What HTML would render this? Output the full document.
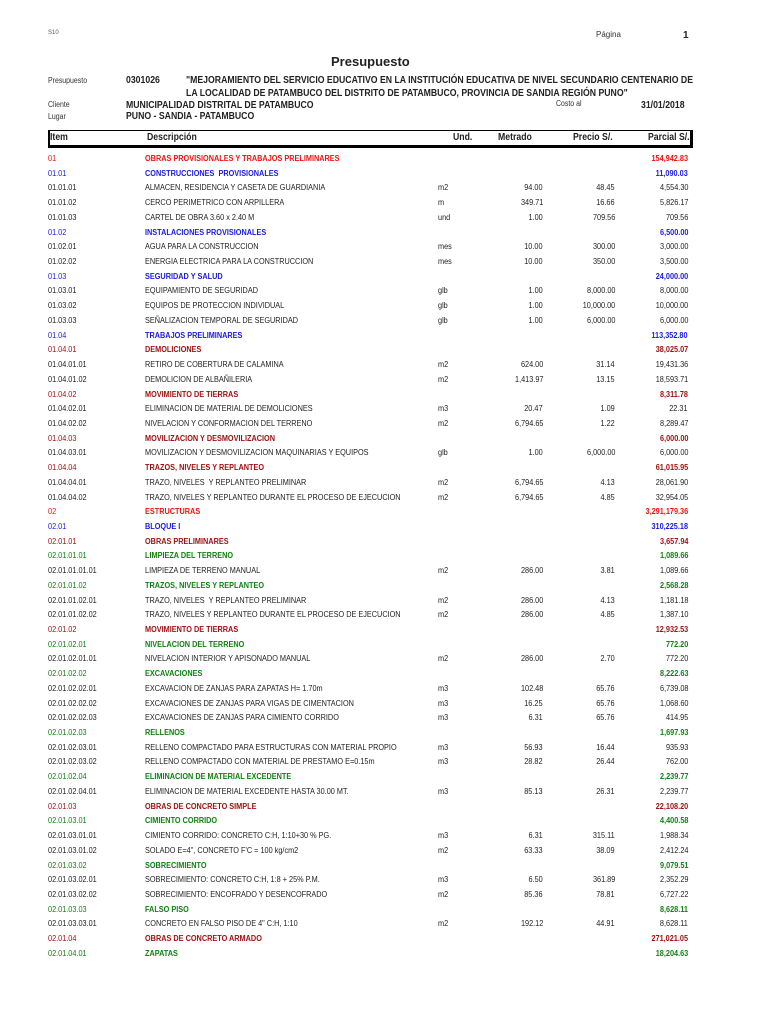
<!DOCTYPE html>
<html><head><meta charset="utf-8"><style>
body{margin:0;background:#fff;width:768px;height:1024px;position:relative;overflow:hidden;font-family:"Liberation Sans",sans-serif;color:#222}
.a{position:absolute;white-space:nowrap;transform-origin:left top}
.hd{font-size:10px;font-weight:bold;transform:scaleX(0.87)}
.hr{transform-origin:right top}
#t{position:absolute;left:0;top:151px;width:768px}
.r{position:relative;height:14.72px;line-height:14px;font-size:8.6px}
.r span{position:absolute;top:0;white-space:nowrap;transform:scaleX(0.85);transform-origin:left center}
.r .m,.r .p,.r .t{transform-origin:right center}
.i{left:48px}.d{left:145px}.u{left:438px}
.m{right:225px}.p{right:153px}.t{right:80px}
.R{color:#f01010;font-weight:bold}.R .i{font-weight:normal}
.B{color:#1a1ae0;font-weight:bold}.B .i{font-weight:normal}
.D{color:#a01010;font-weight:bold}.D .i{font-weight:normal}
.G{color:#108010;font-weight:bold}.G .i{font-weight:normal}
</style></head><body>
<div class="a" style="left:48px;top:30px;font-size:6px;color:#555">S10</div>
<div class="a" style="left:596px;top:30px;font-size:8px;color:#333">Página</div>
<div class="a" style="left:683px;top:30px;font-size:10px;font-weight:bold">1</div>
<div class="a" style="left:331px;top:54px;font-size:13px;font-weight:bold">Presupuesto</div>
<div class="a" style="left:48px;top:76px;font-size:8px;color:#333;transform:scaleX(0.87)">Presupuesto</div>
<div class="a hd" style="left:126px;top:75px">0301026</div>
<div class="a hd" style="left:186px;top:75px">"MEJORAMIENTO DEL SERVICIO EDUCATIVO EN LA INSTITUCIÓN EDUCATIVA DE NIVEL SECUNDARIO CENTENARIO DE</div>
<div class="a hd" style="left:186px;top:88px">LA LOCALIDAD DE PATAMBUCO DEL DISTRITO DE PATAMBUCO, PROVINCIA DE SANDIA REGIÓN PUNO"</div>
<div class="a" style="left:48px;top:100px;font-size:8px;color:#333;transform:scaleX(0.87)">Cliente</div>
<div class="a hd" style="left:126px;top:100px">MUNICIPALIDAD DISTRITAL DE PATAMBUCO</div>
<div class="a" style="left:556px;top:99px;font-size:8px;color:#333;transform:scaleX(0.87)">Costo al</div>
<div class="a hd" style="left:641px;top:100px">31/01/2018</div>
<div class="a" style="left:48px;top:112px;font-size:8px;color:#333;transform:scaleX(0.87)">Lugar</div>
<div class="a hd" style="left:126px;top:111px">PUNO - SANDIA - PATAMBUCO</div>
<div class="a" style="left:48px;top:130px;width:640px;height:14px;border:1px solid #000;border-left-width:2px;border-bottom-width:3px;border-right-width:3px"></div>
<div class="a hd" style="left:50px;top:132px">Item</div>
<div class="a hd" style="left:147px;top:132px">Descripción</div>
<div class="a hd" style="left:453px;top:132px">Und.</div>
<div class="a hd" style="left:498px;top:132px">Metrado</div>
<div class="a hd" style="left:573px;top:132px">Precio S/.</div>
<div class="a hd" style="left:648px;top:132px">Parcial S/.</div>
<div id="t">
<div class="r R"><span class="i">01</span><span class="d">OBRAS PROVISIONALES Y TRABAJOS PRELIMINARES</span><span class="t">154,942.83</span></div>
<div class="r B"><span class="i">01.01</span><span class="d">CONSTRUCCIONES&nbsp; PROVISIONALES</span><span class="t">11,090.03</span></div>
<div class="r"><span class="i">01.01.01</span><span class="d">ALMACEN, RESIDENCIA Y CASETA DE GUARDIANIA</span><span class="u">m2</span><span class="m">94.00</span><span class="p">48.45</span><span class="t">4,554.30</span></div>
<div class="r"><span class="i">01.01.02</span><span class="d">CERCO PERIMETRICO CON ARPILLERA</span><span class="u">m</span><span class="m">349.71</span><span class="p">16.66</span><span class="t">5,826.17</span></div>
<div class="r"><span class="i">01.01.03</span><span class="d">CARTEL DE OBRA 3.60 x 2.40 M</span><span class="u">und</span><span class="m">1.00</span><span class="p">709.56</span><span class="t">709.56</span></div>
<div class="r B"><span class="i">01.02</span><span class="d">INSTALACIONES PROVISIONALES</span><span class="t">6,500.00</span></div>
<div class="r"><span class="i">01.02.01</span><span class="d">AGUA PARA LA CONSTRUCCION</span><span class="u">mes</span><span class="m">10.00</span><span class="p">300.00</span><span class="t">3,000.00</span></div>
<div class="r"><span class="i">01.02.02</span><span class="d">ENERGIA ELECTRICA PARA LA CONSTRUCCION</span><span class="u">mes</span><span class="m">10.00</span><span class="p">350.00</span><span class="t">3,500.00</span></div>
<div class="r B"><span class="i">01.03</span><span class="d">SEGURIDAD Y SALUD</span><span class="t">24,000.00</span></div>
<div class="r"><span class="i">01.03.01</span><span class="d">EQUIPAMIENTO DE SEGURIDAD</span><span class="u">glb</span><span class="m">1.00</span><span class="p">8,000.00</span><span class="t">8,000.00</span></div>
<div class="r"><span class="i">01.03.02</span><span class="d">EQUIPOS DE PROTECCION INDIVIDUAL</span><span class="u">glb</span><span class="m">1.00</span><span class="p">10,000.00</span><span class="t">10,000.00</span></div>
<div class="r"><span class="i">01.03.03</span><span class="d">SEÑALIZACION TEMPORAL DE SEGURIDAD</span><span class="u">glb</span><span class="m">1.00</span><span class="p">6,000.00</span><span class="t">6,000.00</span></div>
<div class="r B"><span class="i">01.04</span><span class="d">TRABAJOS PRELIMINARES</span><span class="t">113,352.80</span></div>
<div class="r D"><span class="i">01.04.01</span><span class="d">DEMOLICIONES</span><span class="t">38,025.07</span></div>
<div class="r"><span class="i">01.04.01.01</span><span class="d">RETIRO DE COBERTURA DE CALAMINA</span><span class="u">m2</span><span class="m">624.00</span><span class="p">31.14</span><span class="t">19,431.36</span></div>
<div class="r"><span class="i">01.04.01.02</span><span class="d">DEMOLICION DE ALBAÑILERIA</span><span class="u">m2</span><span class="m">1,413.97</span><span class="p">13.15</span><span class="t">18,593.71</span></div>
<div class="r D"><span class="i">01.04.02</span><span class="d">MOVIMIENTO DE TIERRAS</span><span class="t">8,311.78</span></div>
<div class="r"><span class="i">01.04.02.01</span><span class="d">ELIMINACION DE MATERIAL DE DEMOLICIONES</span><span class="u">m3</span><span class="m">20.47</span><span class="p">1.09</span><span class="t">22.31</span></div>
<div class="r"><span class="i">01.04.02.02</span><span class="d">NIVELACION Y CONFORMACION DEL TERRENO</span><span class="u">m2</span><span class="m">6,794.65</span><span class="p">1.22</span><span class="t">8,289.47</span></div>
<div class="r D"><span class="i">01.04.03</span><span class="d">MOVILIZACION Y DESMOVILIZACION</span><span class="t">6,000.00</span></div>
<div class="r"><span class="i">01.04.03.01</span><span class="d">MOVILIZACION Y DESMOVILIZACION MAQUINARIAS Y EQUIPOS</span><span class="u">glb</span><span class="m">1.00</span><span class="p">6,000.00</span><span class="t">6,000.00</span></div>
<div class="r D"><span class="i">01.04.04</span><span class="d">TRAZOS, NIVELES Y REPLANTEO</span><span class="t">61,015.95</span></div>
<div class="r"><span class="i">01.04.04.01</span><span class="d">TRAZO, NIVELES&nbsp; Y REPLANTEO PRELIMINAR</span><span class="u">m2</span><span class="m">6,794.65</span><span class="p">4.13</span><span class="t">28,061.90</span></div>
<div class="r"><span class="i">01.04.04.02</span><span class="d">TRAZO, NIVELES Y REPLANTEO DURANTE EL PROCESO DE EJECUCION</span><span class="u">m2</span><span class="m">6,794.65</span><span class="p">4.85</span><span class="t">32,954.05</span></div>
<div class="r R"><span class="i">02</span><span class="d">ESTRUCTURAS</span><span class="t">3,291,179.36</span></div>
<div class="r B"><span class="i">02.01</span><span class="d">BLOQUE I</span><span class="t">310,225.18</span></div>
<div class="r D"><span class="i">02.01.01</span><span class="d">OBRAS PRELIMINARES</span><span class="t">3,657.94</span></div>
<div class="r G"><span class="i">02.01.01.01</span><span class="d">LIMPIEZA DEL TERRENO</span><span class="t">1,089.66</span></div>
<div class="r"><span class="i">02.01.01.01.01</span><span class="d">LIMPIEZA DE TERRENO MANUAL</span><span class="u">m2</span><span class="m">286.00</span><span class="p">3.81</span><span class="t">1,089.66</span></div>
<div class="r G"><span class="i">02.01.01.02</span><span class="d">TRAZOS, NIVELES Y REPLANTEO</span><span class="t">2,568.28</span></div>
<div class="r"><span class="i">02.01.01.02.01</span><span class="d">TRAZO, NIVELES&nbsp; Y REPLANTEO PRELIMINAR</span><span class="u">m2</span><span class="m">286.00</span><span class="p">4.13</span><span class="t">1,181.18</span></div>
<div class="r"><span class="i">02.01.01.02.02</span><span class="d">TRAZO, NIVELES Y REPLANTEO DURANTE EL PROCESO DE EJECUCION</span><span class="u">m2</span><span class="m">286.00</span><span class="p">4.85</span><span class="t">1,387.10</span></div>
<div class="r D"><span class="i">02.01.02</span><span class="d">MOVIMIENTO DE TIERRAS</span><span class="t">12,932.53</span></div>
<div class="r G"><span class="i">02.01.02.01</span><span class="d">NIVELACION DEL TERRENO</span><span class="t">772.20</span></div>
<div class="r"><span class="i">02.01.02.01.01</span><span class="d">NIVELACION INTERIOR Y APISONADO MANUAL</span><span class="u">m2</span><span class="m">286.00</span><span class="p">2.70</span><span class="t">772.20</span></div>
<div class="r G"><span class="i">02.01.02.02</span><span class="d">EXCAVACIONES</span><span class="t">8,222.63</span></div>
<div class="r"><span class="i">02.01.02.02.01</span><span class="d">EXCAVACION DE ZANJAS PARA ZAPATAS H= 1.70m</span><span class="u">m3</span><span class="m">102.48</span><span class="p">65.76</span><span class="t">6,739.08</span></div>
<div class="r"><span class="i">02.01.02.02.02</span><span class="d">EXCAVACIONES DE ZANJAS PARA VIGAS DE CIMENTACION</span><span class="u">m3</span><span class="m">16.25</span><span class="p">65.76</span><span class="t">1,068.60</span></div>
<div class="r"><span class="i">02.01.02.02.03</span><span class="d">EXCAVACIONES DE ZANJAS PARA CIMIENTO CORRIDO</span><span class="u">m3</span><span class="m">6.31</span><span class="p">65.76</span><span class="t">414.95</span></div>
<div class="r G"><span class="i">02.01.02.03</span><span class="d">RELLENOS</span><span class="t">1,697.93</span></div>
<div class="r"><span class="i">02.01.02.03.01</span><span class="d">RELLENO COMPACTADO PARA ESTRUCTURAS CON MATERIAL PROPIO</span><span class="u">m3</span><span class="m">56.93</span><span class="p">16.44</span><span class="t">935.93</span></div>
<div class="r"><span class="i">02.01.02.03.02</span><span class="d">RELLENO COMPACTADO CON MATERIAL DE PRESTAMO E=0.15m</span><span class="u">m3</span><span class="m">28.82</span><span class="p">26.44</span><span class="t">762.00</span></div>
<div class="r G"><span class="i">02.01.02.04</span><span class="d">ELIMINACION DE MATERIAL EXCEDENTE</span><span class="t">2,239.77</span></div>
<div class="r"><span class="i">02.01.02.04.01</span><span class="d">ELIMINACION DE MATERIAL EXCEDENTE HASTA 30.00 MT.</span><span class="u">m3</span><span class="m">85.13</span><span class="p">26.31</span><span class="t">2,239.77</span></div>
<div class="r D"><span class="i">02.01.03</span><span class="d">OBRAS DE CONCRETO SIMPLE</span><span class="t">22,108.20</span></div>
<div class="r G"><span class="i">02.01.03.01</span><span class="d">CIMIENTO CORRIDO</span><span class="t">4,400.58</span></div>
<div class="r"><span class="i">02.01.03.01.01</span><span class="d">CIMIENTO CORRIDO: CONCRETO C:H, 1:10+30 % PG.</span><span class="u">m3</span><span class="m">6.31</span><span class="p">315.11</span><span class="t">1,988.34</span></div>
<div class="r"><span class="i">02.01.03.01.02</span><span class="d">SOLADO E=4", CONCRETO F'C = 100 kg/cm2</span><span class="u">m2</span><span class="m">63.33</span><span class="p">38.09</span><span class="t">2,412.24</span></div>
<div class="r G"><span class="i">02.01.03.02</span><span class="d">SOBRECIMIENTO</span><span class="t">9,079.51</span></div>
<div class="r"><span class="i">02.01.03.02.01</span><span class="d">SOBRECIMIENTO: CONCRETO C:H, 1:8 + 25% P.M.</span><span class="u">m3</span><span class="m">6.50</span><span class="p">361.89</span><span class="t">2,352.29</span></div>
<div class="r"><span class="i">02.01.03.02.02</span><span class="d">SOBRECIMIENTO: ENCOFRADO Y DESENCOFRADO</span><span class="u">m2</span><span class="m">85.36</span><span class="p">78.81</span><span class="t">6,727.22</span></div>
<div class="r G"><span class="i">02.01.03.03</span><span class="d">FALSO PISO</span><span class="t">8,628.11</span></div>
<div class="r"><span class="i">02.01.03.03.01</span><span class="d">CONCRETO EN FALSO PISO DE 4" C:H, 1:10</span><span class="u">m2</span><span class="m">192.12</span><span class="p">44.91</span><span class="t">8,628.11</span></div>
<div class="r D"><span class="i">02.01.04</span><span class="d">OBRAS DE CONCRETO ARMADO</span><span class="t">271,021.05</span></div>
<div class="r G"><span class="i">02.01.04.01</span><span class="d">ZAPATAS</span><span class="t">18,204.63</span></div>
</div>
</body></html>
